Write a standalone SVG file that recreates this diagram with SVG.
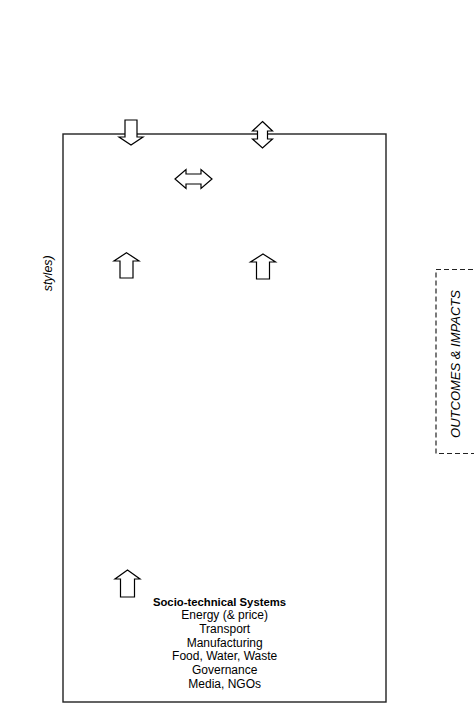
<svg xmlns="http://www.w3.org/2000/svg" width="474" height="707" viewBox="0 0 474 707">
<style>
.arrow{fill:#fff;stroke:#000;stroke-width:1.2;stroke-linejoin:miter}
.frame{fill:none;stroke:#222;stroke-width:1.4}
.dash{fill:none;stroke:#222;stroke-width:1.2;stroke-dasharray:5,3}
.t{font-family:"Liberation Sans",Arial,sans-serif;fill:#000}
.reg{font-size:12px;text-anchor:middle}
.bold{font-size:11.3px;font-weight:bold;text-anchor:middle}
.it{font-style:italic;text-anchor:middle}
</style>
<rect width="474" height="707" fill="#fff"/>
<g id="system-frame">
<rect class="frame" x="63" y="134" width="323" height="568"/>
</g>
<g id="outcomes-impacts">
<rect class="dash" x="436" y="269.5" width="60" height="184"/>
<text class="t it" font-size="13" transform="translate(460,364) rotate(-90)">OUTCOMES &amp; IMPACTS</text>
</g>
<g id="styles-label">
<text class="t it" font-size="12.5" transform="translate(52,273.3) rotate(-90)">styles)</text>
</g>
<g id="socio-technical-systems">
<text class="t bold" x="219.5" y="605.7">Socio-technical Systems</text>
<text class="t reg" x="224.7" y="619.3">Energy (&amp; price)</text>
<text class="t reg" x="224.7" y="633">Transport</text>
<text class="t reg" x="224.7" y="646.7">Manufacturing</text>
<text class="t reg" x="224.7" y="660.4">Food, Water, Waste</text>
<text class="t reg" x="224.7" y="674.1">Governance</text>
<text class="t reg" x="224.7" y="687.8">Media, NGOs</text>
</g>
<g id="connectors">
<polygon class="arrow" points="125,120 137,120 137,137 143,137 131,145 119,137 125,137"/>
<polygon class="arrow" points="262.5,121.5 272.5,131 267.5,131 267.5,139 272.5,139 262.5,148 252.5,139 257.5,139 257.5,131 252.5,131"/>
<polygon class="arrow" points="175,179 186,169.5 186,174 201,174 201,169.5 212,179 201,188.5 201,184 186,184 186,188.5"/>
<polygon class="arrow" points="126.5,252.7 139,261 133,261 133,278 120,278 120,261 114,261"/>
<polygon class="arrow" points="263,254 275.5,262 269.5,262 269.5,279 256.5,279 256.5,262 250.5,262"/>
<polygon class="arrow" points="127.5,570 140,579 134.5,579 134.5,597 120.5,597 120.5,579 115,579"/>
</g>
</svg>
